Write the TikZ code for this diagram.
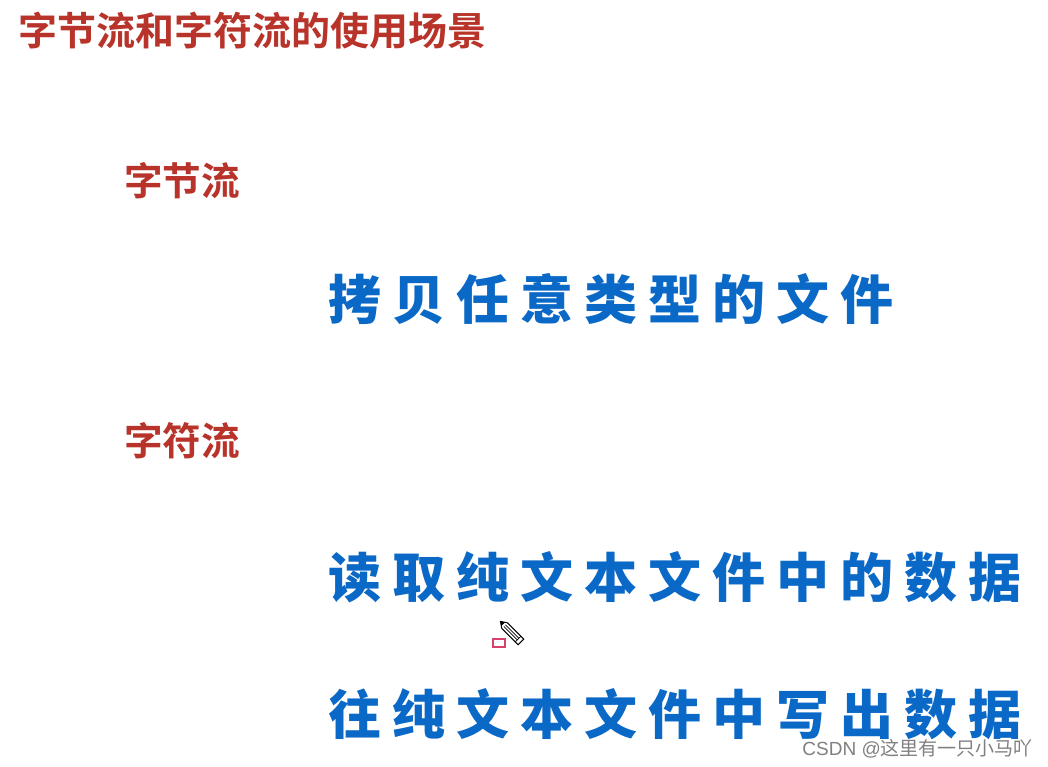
\documentclass[tikz,border=0pt]{standalone}
\usepackage{fontspec}
\newfontfamily\cjk{Noto Sans CJK SC}
\newfontfamily\cjkb{Noto Sans CJK SC Bold}
\newfontfamily\cjkh[LetterSpace=20.8]{Noto Sans CJK SC Black}
\setmainfont{Liberation Sans}
\definecolor{redt}{HTML}{B8332A}
\definecolor{bluet}{HTML}{0A68C6}
\definecolor{pinkr}{HTML}{D9406A}
\tikzset{
 head/.style={inner sep=0,anchor=west,text=redt,font=\cjkb\fontsize{39pt}{42pt}\selectfont},
 sub/.style={inner sep=0,anchor=west,text=redt,font=\cjkb\fontsize{38.6pt}{42pt}\selectfont},
 body/.style={inner sep=0,anchor=west,text=bluet,font=\cjkh\fontsize{53pt}{58pt}\selectfont},
 mark0/.style={inner sep=0,anchor=east,text=gray,font=\fontsize{19pt}{21pt}\selectfont}
}
\begin{document}
\begin{tikzpicture}[x=1pt,y=-1pt]
\useasboundingbox (0,0) rectangle (1048,767);
\fill[white] (0,0) rectangle (1048,767);
\node[head] (t) at (18,31) {字节流和字符流的使用场景};
\node[sub] (a) at (124,181) {字节流};
\node[sub] (b) at (124,441) {字符流};
\node[body] (l1) at (328,299) {拷贝任意类型的文件};
\node[body] (l2) at (328,577) {读取纯文本文件中的数据};
\node[body] (l3) at (328,714) {往纯文本文件中写出数据};
\node[mark0] (w) at (1033,749) {CSDN @\cjk 这里有一只小马吖};
\begin{scope}[shift={(511,632)},rotate=-45]
\draw[black,fill=white,line width=1pt] (-9,-4)--(14,-4) -- (14,4) -- (-9,4) -- (-15,0) -- cycle;
\fill[black] (-15,0)--(-11,-2.7)--(-11,2.7)--cycle;
\draw[black,line width=.7pt] (-9,-1.2)--(10,-1.2) (-9,1.2)--(10,1.2) (10,-4)--(10,4);
\end{scope}
\draw[draw=pinkr,fill=white,line width=1.3pt] (493,639) rectangle (505,647);
\end{tikzpicture}
\end{document}
